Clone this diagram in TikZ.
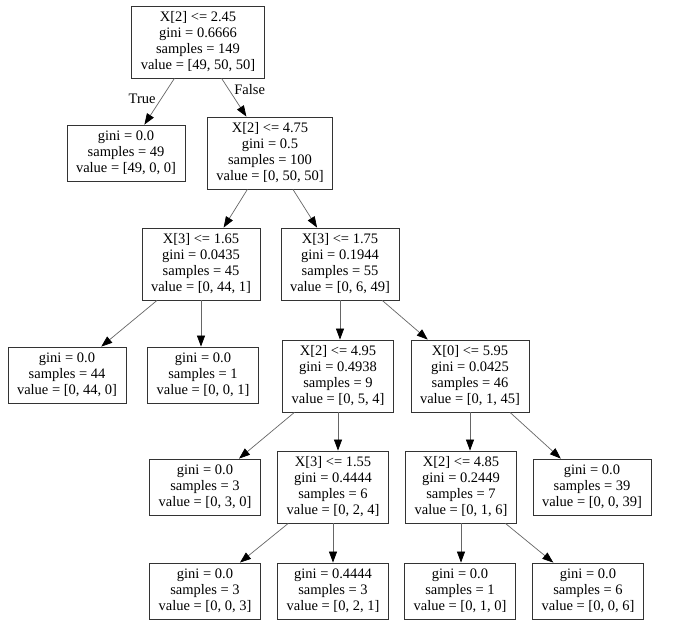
\documentclass[tikz,border=0pt]{standalone}
\usepackage{fontspec}
\setmainfont{Liberation Serif}
\usetikzlibrary{arrows.meta}
\begin{document}
\begin{tikzpicture}[x=1pt,y=-1pt,
    font=\fontsize{14.5}{16}\selectfont,
    treebox/.style={draw=black!80,line width=0.8pt,inner xsep=3pt,inner ysep=4pt,fill=white},
    branch/.style={-{Triangle[length=11pt,width=8pt,color=black]},draw=black!60,line width=0.7pt},
    branchlabel/.style={inner sep=2pt}]
    \useasboundingbox[fill=white] (0,0) rectangle (675,623);
    \node[treebox] (n0) at (198,42) {\begin{tabular}{c}X[2] <= 2.45\\gini = 0.6666\\samples = 149\\value = [49, 50, 50]\end{tabular}};
    \node[treebox] (n1) at (126,153) {\begin{tabular}{c}gini = 0.0\\samples = 49\\value = [49, 0, 0]\end{tabular}};
    \node[treebox] (n2) at (270,153) {\begin{tabular}{c}X[2] <= 4.75\\gini = 0.5\\samples = 100\\value = [0, 50, 50]\end{tabular}};
    \node[treebox] (n3) at (201,264) {\begin{tabular}{c}X[3] <= 1.65\\gini = 0.0435\\samples = 45\\value = [0, 44, 1]\end{tabular}};
    \node[treebox] (n4) at (67,375) {\begin{tabular}{c}gini = 0.0\\samples = 44\\value = [0, 44, 0]\end{tabular}};
    \node[treebox] (n5) at (203,375) {\begin{tabular}{c}gini = 0.0\\samples = 1\\value = [0, 0, 1]\end{tabular}};
    \node[treebox] (n6) at (340,264) {\begin{tabular}{c}X[3] <= 1.75\\gini = 0.1944\\samples = 55\\value = [0, 6, 49]\end{tabular}};
    \node[treebox] (n7) at (338,376) {\begin{tabular}{c}X[2] <= 4.95\\gini = 0.4938\\samples = 9\\value = [0, 5, 4]\end{tabular}};
    \node[treebox] (n8) at (205,487) {\begin{tabular}{c}gini = 0.0\\samples = 3\\value = [0, 3, 0]\end{tabular}};
    \node[treebox] (n9) at (333,487) {\begin{tabular}{c}X[3] <= 1.55\\gini = 0.4444\\samples = 6\\value = [0, 2, 4]\end{tabular}};
    \node[treebox] (n10) at (205,591) {\begin{tabular}{c}gini = 0.0\\samples = 3\\value = [0, 0, 3]\end{tabular}};
    \node[treebox] (n11) at (333,591) {\begin{tabular}{c}gini = 0.4444\\samples = 3\\value = [0, 2, 1]\end{tabular}};
    \node[treebox] (n12) at (470,376) {\begin{tabular}{c}X[0] <= 5.95\\gini = 0.0425\\samples = 46\\value = [0, 1, 45]\end{tabular}};
    \node[treebox] (n13) at (461,487) {\begin{tabular}{c}X[2] <= 4.85\\gini = 0.2449\\samples = 7\\value = [0, 1, 6]\end{tabular}};
    \node[treebox] (n14) at (460,591) {\begin{tabular}{c}gini = 0.0\\samples = 1\\value = [0, 1, 0]\end{tabular}};
    \node[treebox] (n15) at (588,591) {\begin{tabular}{c}gini = 0.0\\samples = 6\\value = [0, 0, 6]\end{tabular}};
    \node[treebox] (n16) at (592,487) {\begin{tabular}{c}gini = 0.0\\samples = 39\\value = [0, 0, 39]\end{tabular}};
    % edges
    \draw[branch] (n0) -- node[branchlabel,pos=0.45,left,xshift=-3pt] (ltrue) {True} (n1);
    \draw[branch] (n0) -- node[branchlabel,pos=0.3,right,xshift=3pt] (lfalse) {False} (n2);
    \draw[branch] (n2) -- (n3);
    \draw[branch] (n2) -- (n6);
    \draw[branch] (n3) -- (n4);
    \draw[branch] (n3.south) -- (n3.south |- n5.north);
    \draw[branch] (n6.south) -- (n6.south |- n7.north);
    \draw[branch] (n6) -- (n12);
    \draw[branch] (n7) -- (n8);
    \draw[branch] (n7.south) -- (n7.south |- n9.north);
    \draw[branch] (n9) -- (n10);
    \draw[branch] (n9.south) -- (n9.south |- n11.north);
    \draw[branch] (n12.south) -- (n12.south |- n13.north);
    \draw[branch] (n12) -- (n16);
    \draw[branch] (n13.south) -- (n13.south |- n14.north);
    \draw[branch] (n13) -- (n15);
  \end{tikzpicture}
\end{document}
